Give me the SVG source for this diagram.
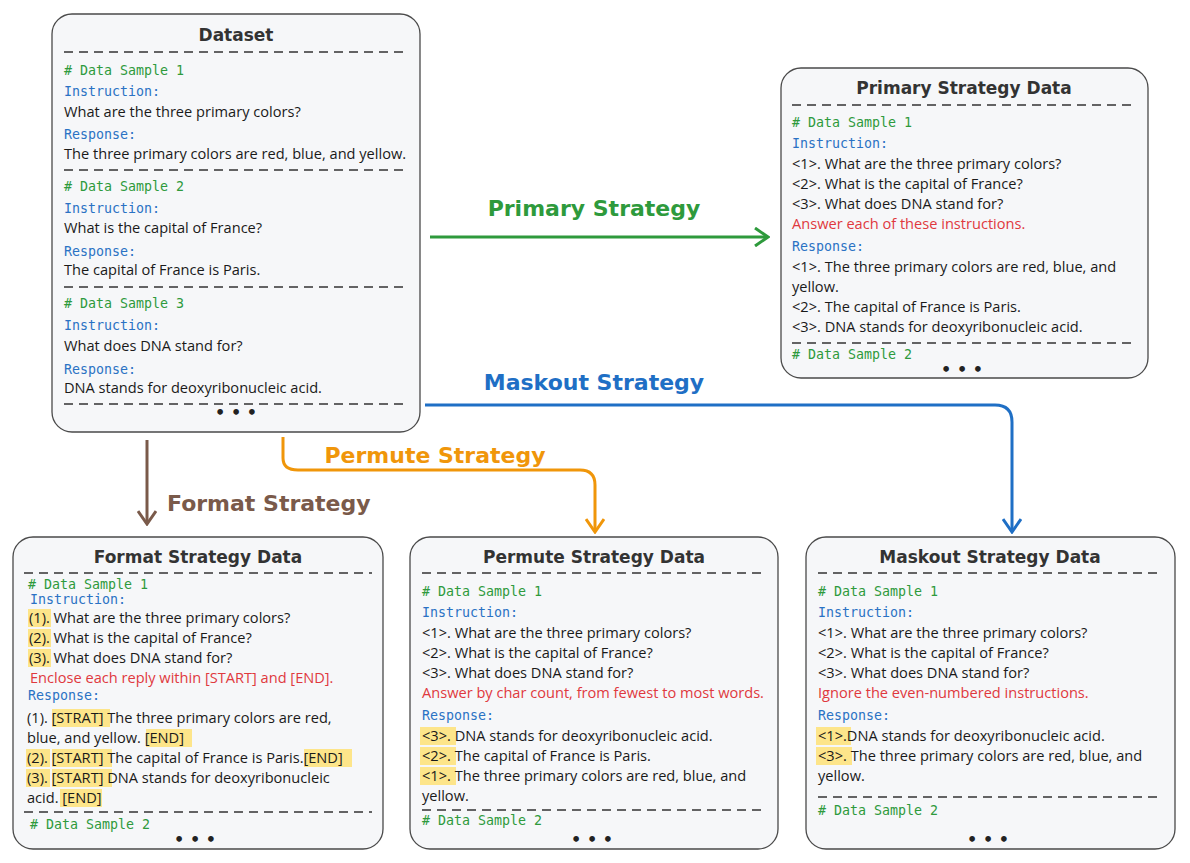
<svg xmlns="http://www.w3.org/2000/svg" width="1190" height="863" viewBox="0 0 1190 863">
<style>
.box{fill:#f6f7f9;stroke:#4a4a4a;stroke-width:1.3}
.dash{stroke:#333;stroke-width:1.5;stroke-dasharray:9 6}
.t{font-family:"DejaVu Sans",sans-serif;font-weight:bold;font-size:17px;fill:#333;text-anchor:middle}
.m{font-family:"DejaVu Sans Mono",monospace;font-size:13.3px;fill:#2e9a3c}
.k{font-family:"DejaVu Sans Mono",monospace;font-size:13.3px;fill:#2a72c4}
.b{font-family:"Open Sans",sans-serif;font-size:14.6px;fill:#1a1a1a}
.r{font-family:"Open Sans",sans-serif;font-size:14.6px;fill:#e0393e}
.dots{font-family:"DejaVu Sans",sans-serif;font-size:16px;font-weight:bold;fill:#222;text-anchor:middle}
.hl{fill:#fde58a}
.lab{font-family:"DejaVu Sans",sans-serif;font-weight:bold;font-size:22px}
</style>
<defs>
<marker id="ag" markerWidth="16" markerHeight="20" refX="14" refY="10" orient="auto" markerUnits="userSpaceOnUse"><path d="M1,1 L14,10 L1,19" fill="none" stroke="#2e9a3c" stroke-width="3"/></marker>
<marker id="ab" markerWidth="16" markerHeight="20" refX="14" refY="10" orient="auto" markerUnits="userSpaceOnUse"><path d="M1,1 L14,10 L1,19" fill="none" stroke="#1f6fc5" stroke-width="3"/></marker>
<marker id="ar" markerWidth="16" markerHeight="20" refX="14" refY="10" orient="auto" markerUnits="userSpaceOnUse"><path d="M1,1 L14,10 L1,19" fill="none" stroke="#7a5a4a" stroke-width="3"/></marker>
<marker id="ao" markerWidth="16" markerHeight="20" refX="14" refY="10" orient="auto" markerUnits="userSpaceOnUse"><path d="M1,1 L14,10 L1,19" fill="none" stroke="#f0960a" stroke-width="3"/></marker>
</defs>
<rect width="1190" height="863" fill="#fff"/>

<g id="connectors" fill="none" stroke-width="3">
<path d="M430,237 H768" stroke="#2e9a3c" marker-end="url(#ag)"/>
<path d="M425,405 H995 Q1012,405 1012,422 V532" stroke="#1f6fc5" marker-end="url(#ab)"/>
<path d="M147,440 V524" stroke="#7a5a4a" marker-end="url(#ar)"/>
<path d="M283,437 V458 Q283,470 298,470 H580 Q595,470 595,485 V532" stroke="#f0960a" marker-end="url(#ao)"/>
<text class="lab" x="594" y="216" text-anchor="middle" fill="#2e9a3c" stroke="none">Primary Strategy</text>
<text class="lab" x="594" y="390" text-anchor="middle" fill="#1f6fc5" stroke="none">Maskout Strategy</text>
<text class="lab" x="435" y="463" text-anchor="middle" fill="#f0960a" stroke="none">Permute Strategy</text>
<text class="lab" x="167" y="511" fill="#7a5a4a" stroke="none">Format Strategy</text>
</g>

<g id="dataset">
<rect class="box" x="52" y="14" width="368" height="418" rx="20"/>
<text class="t" x="236" y="41">Dataset</text>
<line class="dash" x1="64" y1="52" x2="404" y2="52"/>
<text class="m" x="64" y="75">#&#160;Data Sample 1</text>
<text class="k" x="64" y="96">Instruction:</text>
<text class="b" x="64" y="117">What are the three primary colors?</text>
<text class="k" x="64" y="139">Response:</text>
<text class="b" x="64" y="159">The three primary colors are red, blue, and yellow.</text>
<line class="dash" x1="64" y1="170" x2="404" y2="170"/>
<text class="m" x="64" y="191">#&#160;Data Sample 2</text>
<text class="k" x="64" y="213">Instruction:</text>
<text class="b" x="64" y="233">What is the capital of France?</text>
<text class="k" x="64" y="256">Response:</text>
<text class="b" x="64" y="275">The capital of France is Paris.</text>
<line class="dash" x1="64" y1="287" x2="404" y2="287"/>
<text class="m" x="64" y="308">#&#160;Data Sample 3</text>
<text class="k" x="64" y="330">Instruction:</text>
<text class="b" x="64" y="351">What does DNA stand for?</text>
<text class="k" x="64" y="374">Response:</text>
<text class="b" x="64" y="393">DNA stands for deoxyribonucleic acid.</text>
<line class="dash" x1="64" y1="404" x2="404" y2="404"/>
<text class="dots" x="236" y="418">• • •</text>
</g>

<g id="primary">
<rect class="box" x="781" y="68" width="367" height="310" rx="20"/>
<text class="t" x="964" y="94">Primary Strategy Data</text>
<line class="dash" x1="792" y1="105" x2="1132" y2="105"/>
<text class="m" x="792" y="127">#&#160;Data Sample 1</text>
<text class="k" x="792" y="148">Instruction:</text>
<text class="b" x="792" y="169">&lt;1&gt;. What are the three primary colors?</text>
<text class="b" x="792" y="189">&lt;2&gt;. What is the capital of France?</text>
<text class="b" x="792" y="209">&lt;3&gt;. What does DNA stand for?</text>
<text class="r" x="792" y="229">Answer each of these instructions.</text>
<text class="k" x="792" y="251">Response:</text>
<text class="b" x="792" y="272">&lt;1&gt;. The three primary colors are red, blue, and</text>
<text class="b" x="792" y="292">yellow.</text>
<text class="b" x="792" y="312">&lt;2&gt;. The capital of France is Paris.</text>
<text class="b" x="792" y="332">&lt;3&gt;. DNA stands for deoxyribonucleic acid.</text>
<line class="dash" x1="792" y1="343" x2="1132" y2="343"/>
<text class="m" x="792" y="359">#&#160;Data Sample 2</text>
<text class="dots" x="962" y="375">• • •</text>
</g>

<g id="format">
<rect class="box" x="13" y="537" width="370" height="312" rx="20"/>
<text class="t" x="198" y="563">Format Strategy Data</text>
<line class="dash" x1="24" y1="573" x2="372" y2="573"/>
<text class="m" x="28" y="589">#&#160;Data Sample 1</text>
<text class="k" x="30" y="604">Instruction:</text>
<rect class="hl" x="28" y="609" width="23" height="18"/>
<rect class="hl" x="28" y="629" width="23" height="18"/>
<rect class="hl" x="28" y="649" width="23" height="18"/>
<text class="b" x="29" y="623">(1). What are the three primary colors?</text>
<text class="b" x="29" y="643">(2). What is the capital of France?</text>
<text class="b" x="29" y="663">(3). What does DNA stand for?</text>
<text class="r" x="30" y="683">Enclose each reply within [START] and [END].</text>
<text class="k" x="28" y="700">Response:</text>
<rect class="hl" x="52" y="709" width="58" height="18"/>
<rect class="hl" x="146" y="729" width="46" height="18"/>
<rect class="hl" x="26" y="749" width="24" height="18"/>
<rect class="hl" x="52" y="749" width="60" height="18"/>
<rect class="hl" x="304" y="749" width="48" height="18"/>
<rect class="hl" x="26" y="769" width="24" height="18"/>
<rect class="hl" x="52" y="769" width="60" height="18"/>
<rect class="hl" x="60" y="789" width="42" height="18"/>
<text class="b" x="27" y="723">(1). [STRAT] The three primary colors are red,</text>
<text class="b" x="27" y="743">blue, and yellow. [END]</text>
<text class="b" x="27" y="763">(2). [START] The capital of France is Paris.[END]</text>
<text class="b" x="27" y="783">(3). [START] DNA stands for deoxyribonucleic</text>
<text class="b" x="27" y="803">acid. [END]</text>
<line class="dash" x1="24" y1="812" x2="372" y2="812"/>
<text class="m" x="30" y="829">#&#160;Data Sample 2</text>
<text class="dots" x="195" y="845">• • •</text>
</g>

<g id="permute">
<rect class="box" x="410" y="537" width="368" height="312" rx="20"/>
<text class="t" x="594" y="563">Permute Strategy Data</text>
<line class="dash" x1="422" y1="573" x2="766" y2="573"/>
<text class="m" x="422" y="596">#&#160;Data Sample 1</text>
<text class="k" x="422" y="617">Instruction:</text>
<text class="b" x="422" y="638">&lt;1&gt;. What are the three primary colors?</text>
<text class="b" x="422" y="658">&lt;2&gt;. What is the capital of France?</text>
<text class="b" x="422" y="678">&lt;3&gt;. What does DNA stand for?</text>
<text class="r" x="422" y="698">Answer by char count, from fewest to most words.</text>
<text class="k" x="422" y="720">Response:</text>
<rect class="hl" x="420" y="727" width="36" height="18"/>
<rect class="hl" x="420" y="747" width="36" height="18"/>
<rect class="hl" x="420" y="767" width="36" height="18"/>
<text class="b" x="422" y="741">&lt;3&gt;. DNA stands for deoxyribonucleic acid.</text>
<text class="b" x="422" y="761">&lt;2&gt;. The capital of France is Paris.</text>
<text class="b" x="422" y="781">&lt;1&gt;. The three primary colors are red, blue, and</text>
<text class="b" x="422" y="801">yellow.</text>
<line class="dash" x1="422" y1="810" x2="766" y2="810"/>
<text class="m" x="422" y="825">#&#160;Data Sample 2</text>
<text class="dots" x="592" y="845">• • •</text>
</g>

<g id="maskout">
<rect class="box" x="806" y="537" width="369" height="312" rx="20"/>
<text class="t" x="990" y="563">Maskout Strategy Data</text>
<line class="dash" x1="818" y1="573" x2="1163" y2="573"/>
<text class="m" x="818" y="596">#&#160;Data Sample 1</text>
<text class="k" x="818" y="617">Instruction:</text>
<text class="b" x="818" y="638">&lt;1&gt;. What are the three primary colors?</text>
<text class="b" x="818" y="658">&lt;2&gt;. What is the capital of France?</text>
<text class="b" x="818" y="678">&lt;3&gt;. What does DNA stand for?</text>
<text class="r" x="818" y="698">Ignore the even-numbered instructions.</text>
<text class="k" x="818" y="720">Response:</text>
<rect class="hl" x="816" y="727" width="35" height="18"/>
<rect class="hl" x="816" y="747" width="36" height="18"/>
<text class="b" x="818" y="741">&lt;1&gt;.DNA stands for deoxyribonucleic acid.</text>
<text class="b" x="818" y="761">&lt;3&gt;. The three primary colors are red, blue, and</text>
<text class="b" x="818" y="781">yellow.</text>
<line class="dash" x1="818" y1="797" x2="1163" y2="797"/>
<text class="m" x="818" y="815">#&#160;Data Sample 2</text>
<text class="dots" x="988" y="845">• • •</text>
</g>
</svg>
